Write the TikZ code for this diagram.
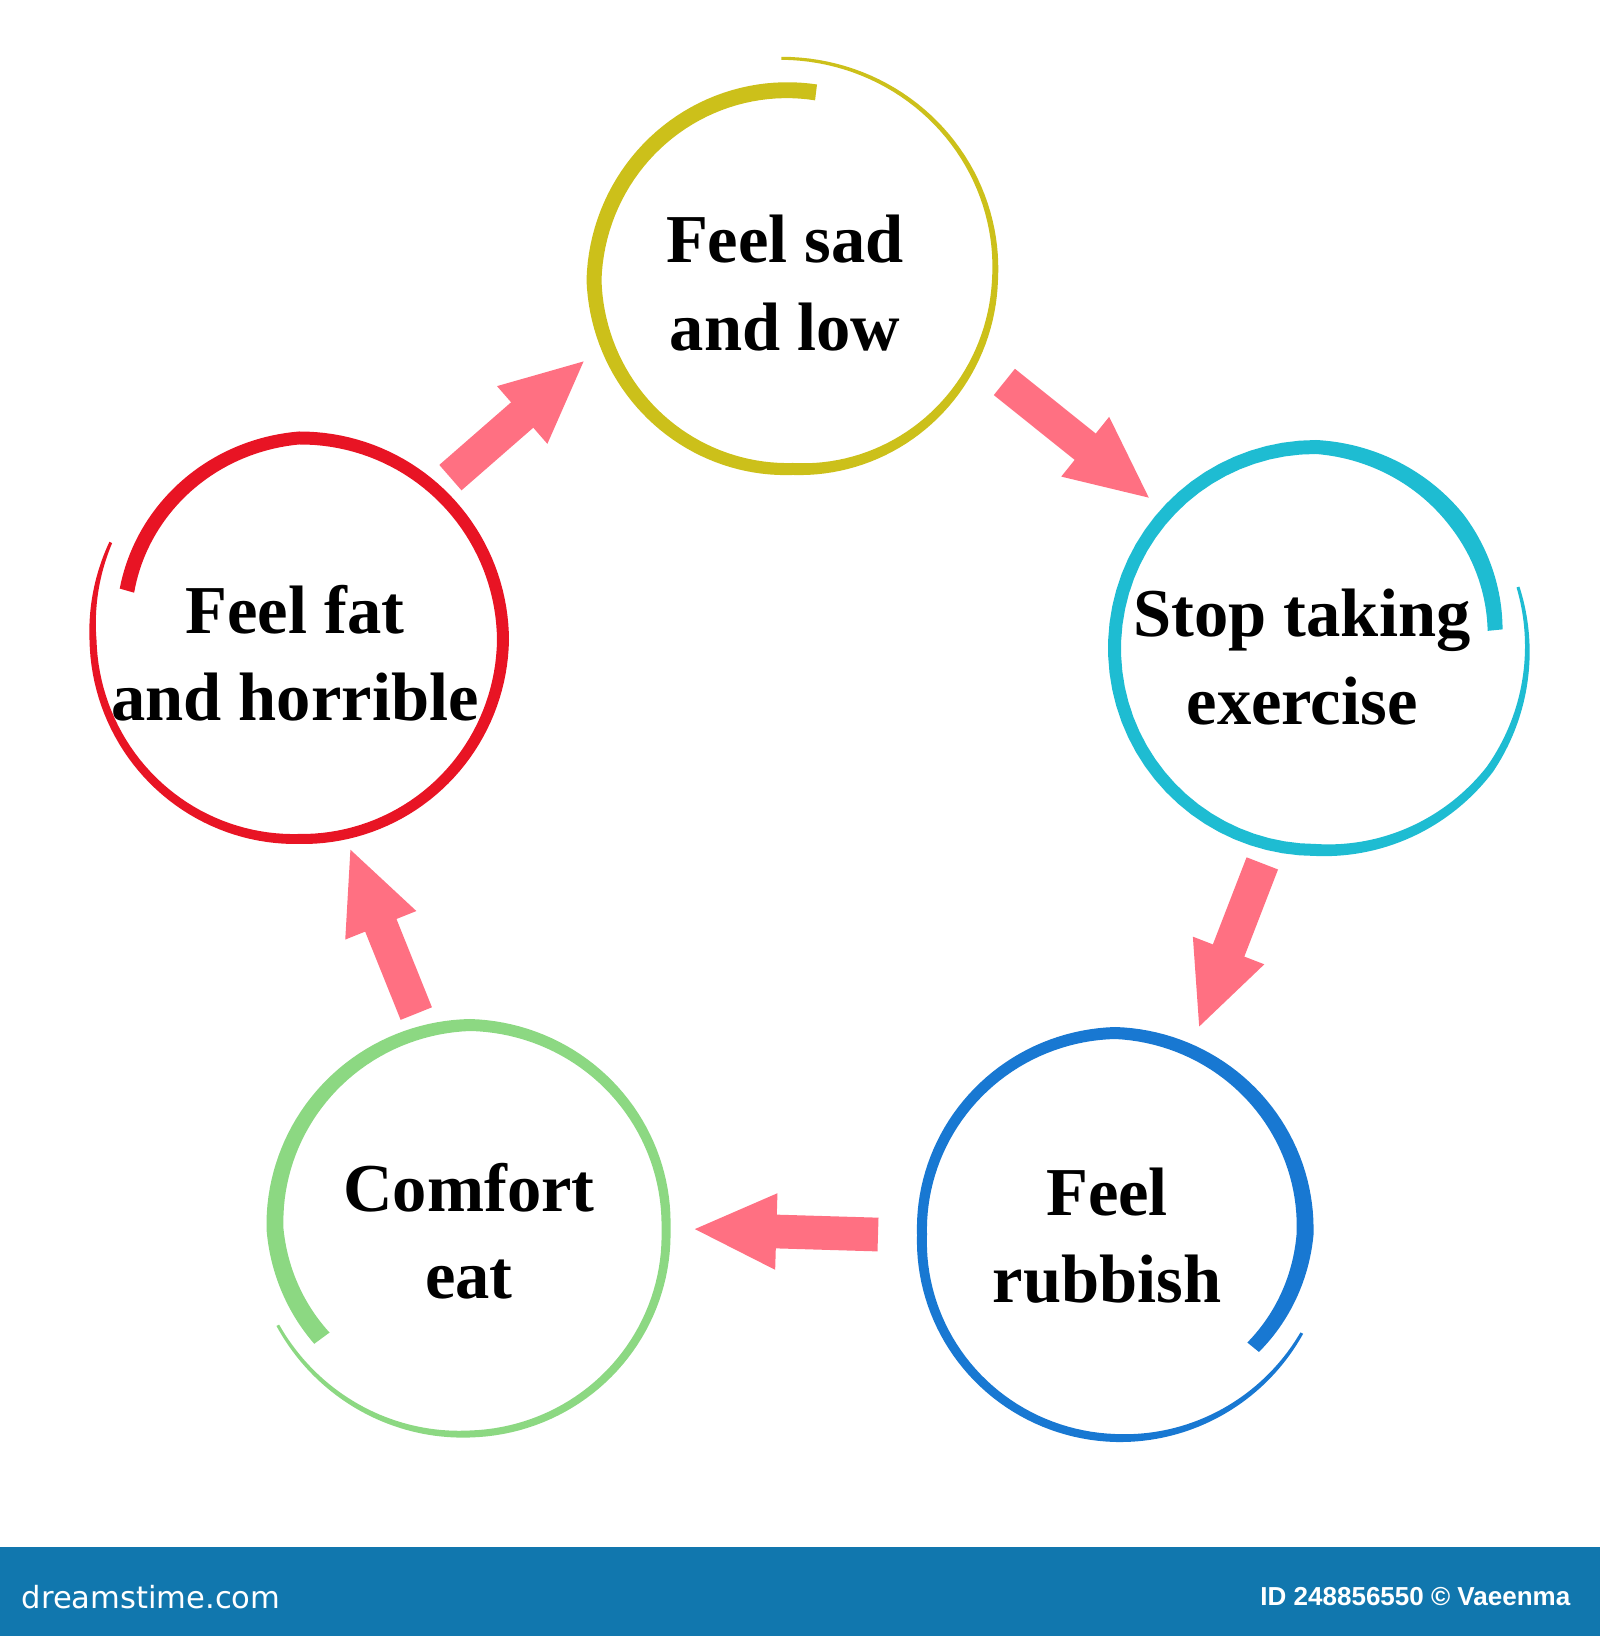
\documentclass[tikz,border=0pt]{standalone}
\usepackage{fontspec}
\setmainfont{Liberation Serif}
\newfontfamily\sitefont{DejaVu Sans}
\newfontfamily\idfont{Liberation Sans}
\usetikzlibrary{arrows.meta,positioning}

\definecolor{sadyellow}{RGB}{204,192,26}
\definecolor{stopcyan}{RGB}{30,188,210}
\definecolor{rubbishblue}{RGB}{24,120,210}
\definecolor{comfortgreen}{RGB}{140,216,130}
\definecolor{fatred}{RGB}{232,20,36}
\definecolor{arrowpink}{RGB}{255,112,130}
\definecolor{barblue}{RGB}{17,119,174}

% piece of a brush ring: start angle, end angle, start radius, end radius, start width, end width
\newcommand{\brushpart}[6]{%
  plot[domain=#1:#2, samples=40, variable=\t] ({(#3+(#4-(#3))*(\t-(#1))/(#2-(#1))+(#5+(#6-(#5))*(\t-(#1))/(#2-(#1)))/2)*cos(\t)}, {(#3+(#4-(#3))*(\t-(#1))/(#2-(#1))+(#5+(#6-(#5))*(\t-(#1))/(#2-(#1)))/2)*sin(\t)})
  -- plot[domain=#2:#1, samples=40, variable=\t] ({(#3+(#4-(#3))*(\t-(#1))/(#2-(#1))-(#5+(#6-(#5))*(\t-(#1))/(#2-(#1)))/2)*cos(\t)}, {(#3+(#4-(#3))*(\t-(#1))/(#2-(#1))-(#5+(#6-(#5))*(\t-(#1))/(#2-(#1)))/2)*sin(\t)})
  -- cycle}

\begin{document}
\begin{tikzpicture}[node distance=1.5cm, every node/.style={font=\fontsize{19.5}{24.8}\selectfont\bfseries}, align=center,
  ring/.style={circle, minimum size=4.44cm, inner sep=0pt, outer sep=0pt},
  flow/.style={arrowpink, line width=9.6pt, -{Triangle[width=19.8pt,length=24pt]}}]
\useasboundingbox (0,0) rectangle (16,16.36);
% Specification of nodes (position, etc.)

\node (feel-sad)        [ring]                                                      at (7.93,13.56) {};
\node (stop-exercise)   [ring, right of=feel-sad, xshift=3.73cm, yshift=-3.68cm]              {};
\node (feel-rubbish)    [ring, below of=stop-exercise, xshift=-2.01cm, yshift=-4.37cm]        {};
\node (comfort-eat)     [ring, left of=feel-rubbish, xshift=-4.95cm, yshift=0.06cm]           {};
\node (feel-fat)        [ring, above of=comfort-eat, xshift=-1.71cm, yshift=4.39cm]           {};

\node (feel-sad-text)       [xshift=-0.08cm, yshift=-0.03cm] at (feel-sad)       {Feel sad\\and low};
\node (stop-exercise-text)  [xshift=-0.14cm, yshift=-0.09cm] at (stop-exercise)  {Stop taking\\exercise};
\node (feel-rubbish-text)   [xshift=-0.08cm, yshift=-0.01cm] at (feel-rubbish)   {Feel\\rubbish};
\node (comfort-eat-text)    [xshift=-0.01cm, yshift=-0.02cm] at (comfort-eat)    {Comfort\\eat};
\node (feel-fat-text)       [xshift=-0.04cm, yshift=-0.13cm] at (feel-fat)       {Feel fat\\and horrible};

% rings
\fill[sadyellow, shift={(feel-sad.center)}]
  \brushpart{83}{180}{1.89}{1.99}{0.16}{0.15} \brushpart{180}{270}{1.99}{1.89}{0.15}{0.12}
  \brushpart{270}{360}{1.89}{2.02}{0.12}{0.06} \brushpart{360}{453}{2.02}{2.22}{0.06}{0.03};

\fill[stopcyan, shift={(stop-exercise.center)}]
  \brushpart{16.8}{-35}{2.11}{2.12}{0.03}{0.08} \brushpart{-35}{-90}{2.12}{2.02}{0.08}{0.12}
  \brushpart{-90}{-270}{2.02}{2.01}{0.12}{0.14} \brushpart{-270}{-318}{2.01}{1.90}{0.14}{0.18}
  \brushpart{-318}{-354.3}{1.90}{1.80}{0.18}{0.15};

\fill[rubbishblue, shift={(feel-rubbish.center)}]
  \brushpart{-27.7}{-90}{2.11}{2.03}{0.03}{0.08} \brushpart{-90}{-180}{2.03}{1.93}{0.08}{0.10}
  \brushpart{-180}{-270}{1.93}{2.02}{0.10}{0.12} \brushpart{-270}{-360}{2.02}{1.90}{0.12}{0.17}
  \brushpart{-360}{-399.1}{1.90}{1.78}{0.17}{0.15};

\fill[comfortgreen, shift={(comfort-eat.center)}]
  \brushpart{206.6}{270}{2.15}{2.05}{0.03}{0.07} \brushpart{270}{360}{2.05}{1.96}{0.07}{0.09}
  \brushpart{360}{450}{1.96}{2.04}{0.09}{0.12} \brushpart{450}{540}{2.04}{1.95}{0.12}{0.17}
  \brushpart{540}{576.4}{1.95}{1.84}{0.17}{0.19};

\fill[fatred, shift={(feel-fat.center)}]
  \brushpart{164}{90}{1.79}{2.02}{0.15}{0.13} \brushpart{90}{0}{2.02}{2.04}{0.13}{0.12}
  \brushpart{0}{-90}{2.04}{1.99}{0.12}{0.10} \brushpart{-90}{-180}{1.99}{2.06}{0.10}{0.07}
  \brushpart{-180}{-207.4}{2.06}{2.12}{0.07}{0.03};

% arrows
\draw[flow, shorten <=0.13cm] (feel-sad.-25.5) -- (stop-exercise.138.7);
\draw[flow]                   (stop-exercise.-104) -- (feel-rubbish.68.9);
\draw[flow, shorten <=0.15cm] (feel-rubbish.180) -- (comfort-eat.-0.8);
\draw[flow, shorten >=-0.09cm] (comfort-eat.104.2) -- (feel-fat.-76.7);
\draw[flow]                   (feel-fat.47.2) -- (feel-sad.201.8);

% bottom bar
\fill[barblue] (0,0) rectangle (16,0.89);
\node (site-name) [anchor=base west, inner sep=0pt, white, font=\sitefont\fontsize{8.7}{10}\selectfont] at (0.21,0.27) {dreamstime.com};
\node (image-id)  [anchor=base east, inner sep=0pt, white, font=\idfont\bfseries\fontsize{7.4}{9}\selectfont] at (15.71,0.31) {ID 248856550 © Vaeenma};

\end{tikzpicture}
\end{document}
